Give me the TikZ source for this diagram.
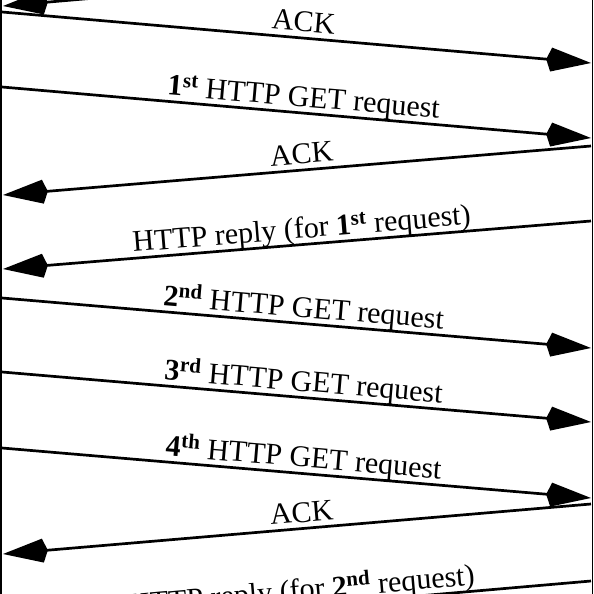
\documentclass[tikz,border=0pt]{standalone}
\usepackage{fontspec}
\setmainfont{Liberation Serif}
\usetikzlibrary{arrows.meta}
\begin{document}
\begin{tikzpicture}[x=1pt,y=-1pt,
  msgr/.style={line width=2.7pt, -{Kite[length=45pt,width=24pt,inset=5pt]}},
  msgl/.style={line width=2.7pt, {Kite[length=45pt,width=24pt,inset=5pt]}-},
  lbl/.style={pos=0.51, sloped, above=5pt, inner sep=0pt, text depth=0pt,
    font=\fontsize{30}{36}\selectfont},
  life/.style={line width=1.8pt}]
\useasboundingbox (0,0) rectangle (594,594);
\clip (0,0) rectangle (594,594);
% lifelines
\coordinate (CT) at (1,-60);
\coordinate (CB) at (1,660);
\coordinate (ST) at (592.5,-60);
\coordinate (SB) at (592.5,660);
\draw[life] (CT) -- (CB);
\draw[life] (ST) -- (SB);
% message end points
\coordinate (L0) at (3,6);    \coordinate (R0) at (591,-45);
\coordinate (L1) at (2,12);   \coordinate (R1) at (591,63);
\coordinate (L2) at (2,87);   \coordinate (R2) at (591,138);
\coordinate (L3) at (3,195);  \coordinate (R3) at (591,146);
\coordinate (L4) at (3,269);  \coordinate (R4) at (591,221);
\coordinate (L5) at (2,298);  \coordinate (R5) at (591,348);
\coordinate (L6) at (2,372);  \coordinate (R6) at (591,422);
\coordinate (L7) at (2,448);  \coordinate (R7) at (591,498);
\coordinate (L8) at (3,554);  \coordinate (R8) at (591,504);
\coordinate (L9) at (3,632);  \coordinate (R9) at (591,581);
% messages
\draw[msgl] (L0) -- (R0);
\draw[msgr] (L1) -- (R1) node[lbl] (t1) {ACK};
\draw[msgr] (L2) -- (R2) node[lbl] (t2) {\textbf{1\textsuperscript{st}} HTTP GET request};
\draw[msgl] (L3) -- (R3) node[lbl] (t3) {ACK};
\draw[msgl] (L4) -- (R4) node[lbl] (t4) {HTTP reply (for \textbf{1\textsuperscript{st}} request)};
\draw[msgr] (L5) -- (R5) node[lbl] (t5) {\textbf{2\textsuperscript{nd}} HTTP GET request};
\draw[msgr] (L6) -- (R6) node[lbl] (t6) {\textbf{3\textsuperscript{rd}} HTTP GET request};
\draw[msgr] (L7) -- (R7) node[lbl] (t7) {\textbf{4\textsuperscript{th}} HTTP GET request};
\draw[msgl] (L8) -- (R8) node[lbl] (t8) {ACK};
\draw[msgl] (L9) -- (R9) node[lbl] (t9) {HTTP reply (for \textbf{2\textsuperscript{nd}} request)};
\end{tikzpicture}
\end{document}
